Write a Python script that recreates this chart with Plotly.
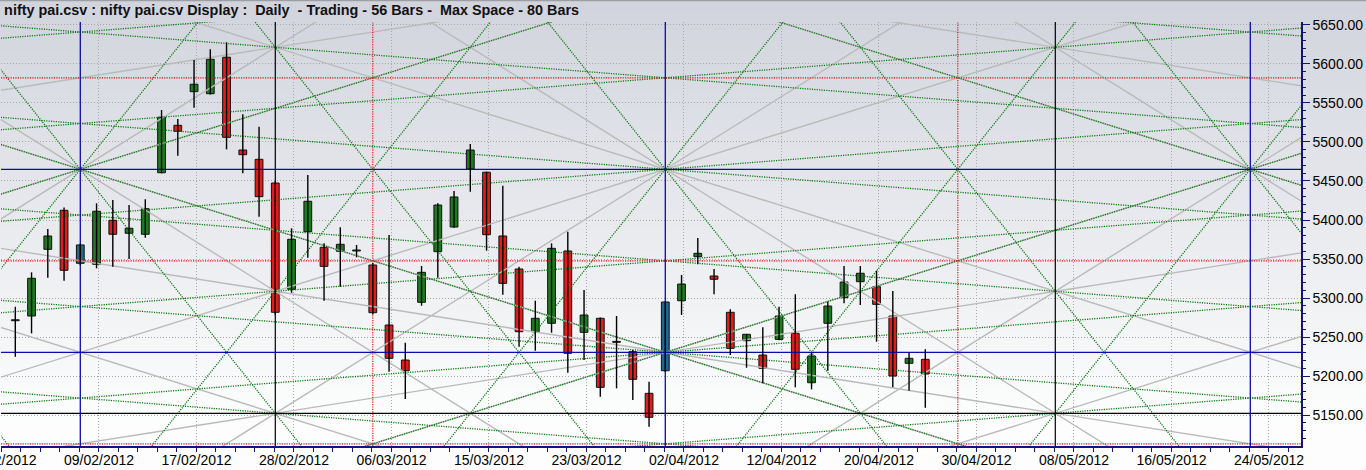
import plotly.graph_objects as go

# ---------------- data ----------------
bar_index = list(range(57))
opens = [5270.9, 5276.9, 5362.4, 5412.4, 5344.5, 5343.2, 5399.6, 5383.0, 5381.7, 5460.6,
         5521.4, 5564.5, 5561.9, 5608.6, 5489.7, 5477.8, 5447.4, 5311.2, 5385.0, 5365.0,
         5359.9, 5360.3, 5342.3, 5265.4, 5220.5, 5294.5, 5359.4, 5391.0, 5465.4, 5461.2,
         5379.5, 5337.2, 5256.8, 5267.6, 5360.3, 5256.0, 5274.0, 5243.2, 5231.2, 5177.8,
         5206.8, 5296.5, 5353.0, 5328.2, 5281.7, 5245.3, 5226.9, 5247.0, 5254.7, 5191.4,
         5267.6, 5300.4, 5320.9, 5314.5, 5276.9, 5216.3, 5221.4]
highs = [5288.8, 5332.9, 5388.5, 5416.0, 5370.0, 5421.4, 5425.6, 5419.2, 5426.5, 5541.0,
         5529.5, 5605.1, 5618.8, 5627.8, 5535.5, 5519.6, 5450.0, 5389.4, 5457.7, 5370.1,
         5390.6, 5368.0, 5344.9, 5380.8, 5242.7, 5341.0, 5421.4, 5437.2, 5497.4, 5462.0,
         5444.0, 5340.1, 5296.5, 5370.1, 5385.0, 5310.3, 5275.0, 5276.9, 5233.3, 5192.7,
         5296.0, 5329.5, 5376.9, 5337.2, 5285.5, 5254.0, 5262.4, 5288.8, 5304.7, 5229.9,
         5295.3, 5341.0, 5341.0, 5335.0, 5309.0, 5229.9, 5234.2]
lows = [5224.7, 5254.7, 5326.0, 5322.2, 5342.0, 5338.1, 5340.1, 5350.0, 5377.3, 5459.9,
        5482.4, 5544.0, 5561.0, 5490.6, 5459.9, 5404.2, 5278.0, 5306.8, 5351.7, 5296.5,
        5314.5, 5352.2, 5279.0, 5205.5, 5170.5, 5290.1, 5326.0, 5390.0, 5436.3, 5360.6,
        5304.2, 5237.6, 5232.4, 5255.5, 5204.2, 5220.5, 5173.5, 5184.2, 5169.2, 5135.0,
        5205.0, 5278.2, 5343.2, 5304.7, 5226.9, 5210.6, 5190.6, 5246.0, 5185.5, 5182.9,
        5206.8, 5293.2, 5291.0, 5244.0, 5185.5, 5181.2, 5159.4]
closes = [5270.9, 5325.3, 5379.5, 5335.5, 5368.0, 5411.2, 5381.7, 5389.4, 5414.5, 5531.7,
          5513.7, 5574.0, 5606.0, 5506.0, 5483.7, 5429.9, 5281.7, 5375.3, 5424.0, 5340.6,
          5368.8, 5360.3, 5281.2, 5222.7, 5206.8, 5332.9, 5419.2, 5429.5, 5489.7, 5381.2,
          5318.8, 5256.8, 5274.0, 5363.7, 5229.1, 5278.2, 5185.5, 5243.2, 5195.8, 5147.1,
          5294.9, 5317.9, 5357.3, 5324.0, 5235.5, 5253.5, 5209.9, 5276.9, 5208.6, 5225.6,
          5289.7, 5320.5, 5331.7, 5291.9, 5200.0, 5222.7, 5202.6]
cycle_bars_marked = [4, 40]          # candles sitting on the blue cycle lines

x_tick_bars = [-1, 5, 11, 17, 23, 29, 35, 41, 47, 53, 59, 65, 71, 77]
x_tick_labels = ["01/02/2012", "09/02/2012", "17/02/2012", "28/02/2012", "06/03/2012",
                 "15/03/2012", "23/03/2012", "02/04/2012", "12/04/2012", "20/04/2012",
                 "30/04/2012", "08/05/2012", "16/05/2012", "24/05/2012"]
y_tick_values = [5150, 5200, 5250, 5300, 5350, 5400, 5450, 5500, 5550, 5600, 5650]

# Gann square: time unit (bars) and price unit
square_start_bar = 4
square_bars = 36
square_base_price = 5230.4
square_price = 234.6

# key levels in square units
blue_times = [0, 1, 2]
black_times = [1 / 3, 5 / 3]
red_times = [0.5, 1.5]
blue_levels = [0, 1]
black_levels = [-1 / 3]
red_levels = [-0.5, 0.5, 1.5]

# angle lines: (slope in square units, intercepts)
grey_angles = [(1, [-2, -1, 0, 1]), (-1, [0, 1, 2, 3]),
               (2, [-3, -1, 1]), (-2, [1, 3, 5]),
               (0.5, [-0.5, 1.5]), (-0.5, [0.5, 2.5])]
green_angles = [(4, [-7, -5, -3, -1, 1]), (-4, [-1, 1, 3, 5, 7, 9]),
                (0.25, [-0.75, -0.25, 0.25, 0.75, 1.25, 1.75]),
                (-0.25, [-0.25, 0.25, 0.75, 1.25, 1.75, 2.25]),
                (1, [-1, 1]), (-1, [1, 3])]

# ---------------- helpers ----------------
def to_bar(t):
    return square_start_bar + square_bars * t


def to_price(u):
    return square_base_price + square_price * u


X_RANGE = [-0.88, 79.12]
Y_RANGE = [5110.3, 5653.8]


def angle_xy(families):
    xs, ys = [], []
    for slope, ks in families:
        for k in ks:
            t0, t1 = -0.5, 2.6
            xs += [to_bar(t0), to_bar(t1), None]
            ys += [to_price(slope * t0 + k), to_price(slope * t1 + k), None]
    return xs, ys


def vlines(times):
    xs, ys = [], []
    for t in times:
        xs += [to_bar(t), to_bar(t), None]
        ys += [Y_RANGE[0], Y_RANGE[1], None]
    return xs, ys


def hlines(levels):
    xs, ys = [], []
    for u in levels:
        xs += [X_RANGE[0], X_RANGE[1], None]
        ys += [to_price(u), to_price(u), None]
    return xs, ys


fig = go.Figure()

DOT = "1.2px,1.2px"

gx, gy = angle_xy(grey_angles)
fig.add_trace(go.Scatter(x=gx, y=gy, mode="lines", line=dict(color="#bababa", width=1.4),
                         hoverinfo="skip", showlegend=False))
gx, gy = angle_xy(green_angles)
fig.add_trace(go.Scatter(x=gx, y=gy, mode="lines",
                         line=dict(color="#0e7a12", width=1.3, dash=DOT),
                         hoverinfo="skip", showlegend=False))

for fn, vals, color, dash, w in [
    (vlines, red_times, "#e01515", DOT, 1.2),
    (hlines, red_levels, "#e01515", DOT, 1.2),
    (vlines, black_times, "#000000", "solid", 1.2),
    (hlines, black_levels, "#000000", "solid", 1.2),
    (vlines, blue_times, "#0c0ca8", "solid", 1.3),
    (hlines, blue_levels, "#0c0ca8", "solid", 1.3),
]:
    lx, ly = fn(vals)
    fig.add_trace(go.Scatter(x=lx, y=ly, mode="lines", line=dict(color=color, width=w, dash=dash),
                             hoverinfo="skip", showlegend=False))

# candles: wicks then bodies
wx, wy = [], []
for i, h, l in zip(bar_index, highs, lows):
    wx += [i, i, None]
    wy += [l, h, None]
fig.add_trace(go.Scatter(x=wx, y=wy, mode="lines", line=dict(color="#000000", width=1.4),
                         hoverinfo="skip", showlegend=False))

body_base, body_len, body_col = [], [], []
for i, o, c in zip(bar_index, opens, closes):
    lo, hi = min(o, c), max(o, c)
    body_base.append(lo)
    body_len.append(max(hi - lo, 1.2))
    if i in cycle_bars_marked:
        body_col.append("#22688c")
    elif c >= o:
        body_col.append("#1e7a1e")
    else:
        body_col.append("#e31b1b")
fig.add_trace(go.Bar(x=bar_index, y=body_len, base=body_base, width=0.48,
                     marker=dict(color=body_col, line=dict(color="#111111", width=1)),
                     hoverinfo="skip", showlegend=False))

# background gradient (style only)
H_PX, T_PX, B_PX = 470, 22, 24
plot_h = H_PX - T_PX - B_PX
top_rgb = (209, 212, 221)
bands = 47
for b in range(bands):
    y0px = b * H_PX / bands
    y1px = (b + 1) * H_PX / bands
    f = min(1.0, ((y0px + y1px) / 2) / 420.0)
    rgb = tuple(int(round(c + (253 - c) * f)) for c in top_rgb)
    fig.add_shape(type="rect", xref="paper", yref="paper", layer="below",
                  x0=-0.01, x1=1.06,
                  y0=(H_PX - B_PX - y1px) / plot_h, y1=(H_PX - B_PX - y0px) / plot_h,
                  line=dict(width=0), fillcolor="rgb(%d,%d,%d)" % rgb)
# thin frame line along the top edge of the window
fig.add_shape(type="line", xref="paper", yref="paper", layer="below",
              x0=-0.01, x1=1.06, y0=(H_PX - B_PX - 0.5) / plot_h, y1=(H_PX - B_PX - 0.5) / plot_h,
              line=dict(color="#9c9ea4", width=1.5))

AXIS = "#14147a"
FONT = "Liberation Sans, Arial, sans-serif"
fig.update_layout(
    width=1366, height=470,
    margin=dict(l=1, r=65, t=T_PX, b=B_PX, autoexpand=False),
    paper_bgcolor="#ffffff", plot_bgcolor="rgba(0,0,0,0)",
    barmode="overlay",
    font=dict(family=FONT, size=14, color="#000000"),
    title=dict(text="<b>nifty pai.csv : nifty pai.csv Display :  Daily  - Trading - 56 Bars -  Max Space - 80 Bars</b>",
               x=0.003, xanchor="left", xref="container", y=1 - 10 / 470, yref="container",
               yanchor="middle", font=dict(family=FONT, size=14.4, color="#111111")),
    xaxis=dict(range=X_RANGE, tickmode="array",
               tickvals=[b + 0.15 for b in x_tick_bars], ticktext=x_tick_labels,
               ticklabeloverflow="allow", automargin=False, ticklabelstandoff=-4,
               showgrid=True, gridcolor="#a8a8a8", griddash="1px,2px", gridwidth=1,
               zeroline=False, showline=True, linecolor=AXIS, linewidth=1.5,
               ticks="outside", ticklen=4, tickcolor=AXIS,
               minor=dict(tickmode="linear", tick0=-0.85, dtick=1.2, ticks="outside",
                          ticklen=4, tickcolor=AXIS, showgrid=False),
               tickfont=dict(size=14, family=FONT), fixedrange=True),
    yaxis=dict(range=Y_RANGE, side="right", tickmode="array", tickvals=y_tick_values,
               automargin=False,
               tickformat=".2f", showgrid=True, gridcolor="#a8a8a8", griddash="1px,2px",
               zeroline=False, showline=True, linecolor=AXIS, linewidth=1.5,
               ticks="outside", ticklen=7, tickcolor=AXIS,
               minor=dict(tickmode="linear", tick0=5150, dtick=10, ticks="outside",
                          ticklen=3, tickcolor=AXIS, showgrid=False),
               tickfont=dict(size=14, family=FONT), fixedrange=True),
)

fig.write_html("out.html", config={"displayModeBar": False},
               post_script="document.body.style.margin='0px';document.body.style.overflow='hidden';")
